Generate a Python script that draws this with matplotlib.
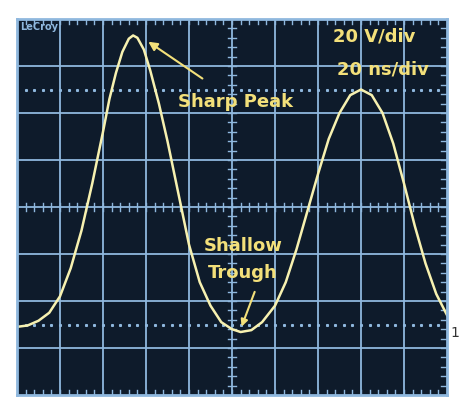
import numpy as np
import matplotlib.pyplot as plt

# trace, in divisions
t_div = [0.0, 0.25, 0.5, 0.75, 1.0, 1.25, 1.5, 1.75, 2.0, 2.15, 2.3, 2.45, 2.6, 2.7, 2.8, 2.95,
         3.1, 3.3, 3.5, 3.75, 4.0, 4.25, 4.5, 4.75, 5.0, 5.2, 5.45, 5.7, 6.0, 6.25, 6.5, 6.75,
         7.0, 7.25, 7.5, 7.75, 8.0, 8.25, 8.5, 8.75, 9.0, 9.25, 9.5, 9.75, 10.0]
v_div = [-2.55, -2.52, -2.42, -2.25, -1.9, -1.3, -0.5, 0.5, 1.6, 2.3, 2.85, 3.3, 3.58, 3.65, 3.6, 3.35,
         2.9, 2.2, 1.4, 0.3, -0.8, -1.6, -2.1, -2.45, -2.6, -2.66, -2.62, -2.45, -2.1, -1.6, -0.9, -0.1,
         0.7, 1.45, 2.0, 2.38, 2.5, 2.38, 2.0, 1.35, 0.5, -0.4, -1.2, -1.85, -2.3]

bg = '#0e1b2b'
grid_c = '#8fb8de'
yel = '#f3e07a'

fig = plt.figure(figsize=(4.74, 4.14), dpi=100)
fig.patch.set_facecolor('white')
ax = fig.add_axes([17/474, 18/414, 430/474, 376/414])
ax.set_facecolor(bg)
ax.set_xlim(0, 10)
ax.set_ylim(-4, 4)

for x in range(1, 10):
    ax.axvline(x, color=grid_c, lw=1.3)
for y in range(-3, 4):
    ax.axhline(y, color=grid_c, lw=1.3)
# dotted cursor levels
for y in [2.5, -2.5]:
    ax.plot(np.arange(0.2, 10, 0.2), [y] * 49, ls='none', marker='s', ms=1.2, color=grid_c)
# minor ticks on centre lines and edges
for x in np.arange(0.2, 10, 0.2):
    ax.plot([x, x], [-0.08, 0.08], color=grid_c, lw=1)
    ax.plot([x, x], [4, 3.9], color=grid_c, lw=1)
    ax.plot([x, x], [-4, -3.9], color=grid_c, lw=1)
for y in np.arange(-3.8, 4, 0.2):
    ax.plot([4.9, 5.1], [y, y], color=grid_c, lw=1)
    ax.plot([9.85, 10], [y, y], color=grid_c, lw=1)
ax.set_xticks([])
ax.set_yticks([])
for s in ax.spines.values():
    s.set_color(grid_c)
    s.set_linewidth(2)

ax.plot(t_div, v_div, color='#f7f1b0', lw=1.8, solid_joinstyle='round')

ax.text(0.08, 3.95, 'LeCroy', color=grid_c, fontsize=7, fontweight='bold', va='top')
ax.text(7.35, 3.65, '20 V/div', color=yel, fontsize=13, fontweight='bold', va='center')
ax.text(7.45, 2.95, '20 ns/div', color=yel, fontsize=13, fontweight='bold', va='center')
ax.annotate('Sharp Peak', xy=(3.0, 3.55), xytext=(3.75, 2.25), color=yel, fontsize=13,
            fontweight='bold', va='center',
            arrowprops=dict(arrowstyle='-|>', color=yel, lw=1.5, shrinkA=14))
ax.text(5.25, -0.8, 'Shallow', color=yel, fontsize=13, fontweight='bold', va='center', ha='center')
ax.text(5.25, -1.38, 'Trough', color=yel, fontsize=13, fontweight='bold', va='center', ha='center')
ax.annotate('', xy=(5.2, -2.6), xytext=(5.55, -1.75),
            arrowprops=dict(arrowstyle='-|>', color=yel, lw=1.5))
fig.text(450/474, 1 - 333/414, '1', color='#333333', fontsize=10, va='center')

plt.savefig('out.png', dpi=100, facecolor='white')
